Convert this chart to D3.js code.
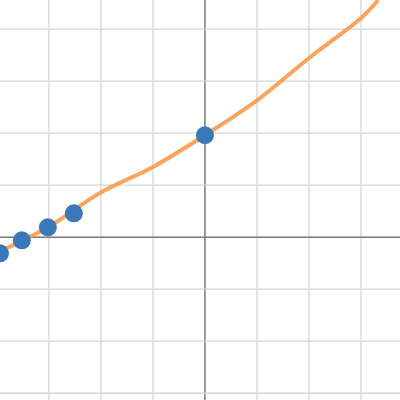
<!DOCTYPE html><html><head><script src="https://cdn.jsdelivr.net/npm/d3@7"></script>
<style>body{margin:0;background:#fff}</style></head><body><svg width="400" height="400"></svg><script>
const pointX=[-3.94,-3.52,-3.02,-2.52,0];
const pointY=[-0.31,-0.06,0.19,0.46,1.96];
const curveX=[-3.94,-3,-2.02,-1,0,1,2.02,3.02,3.33];
const curveY=[-0.27,0.2,0.85,1.35,1.96,2.63,3.46,4.23,4.56];
const gridTicks=[-4,-3,-2,-1,0,1,2,3,4,5];
const W=400,H=400;
const x=d3.scaleLinear().domain([-3.94,3.75]).range([0,W]);
const y=d3.scaleLinear().domain([4.56,-3.13]).range([0,H]);
const svg=d3.select("svg");
svg.selectAll(".gx").data(gridTicks).join("line").attr("x1",d=>x(d)).attr("x2",d=>x(d)).attr("y1",0).attr("y2",H)
 .attr("stroke",d=>d===0?"#777":"#d6d6d6").attr("stroke-width",d=>d===0?1.5:1.3);
svg.selectAll(".gy").data(gridTicks).join("line").attr("y1",d=>y(d)).attr("y2",d=>y(d)).attr("x1",0).attr("x2",W)
 .attr("stroke",d=>d===0?"#777":"#d6d6d6").attr("stroke-width",d=>d===0?1.5:1.3);
svg.append("path").datum(curveX.map((v,i)=>[v,curveY[i]])).attr("d",d3.line().x(d=>x(d[0])).y(d=>y(d[1])).curve(d3.curveCatmullRom))
 .attr("fill","none").attr("stroke","#fa9a4c").attr("stroke-width",4).attr("stroke-opacity",0.9);
svg.selectAll("circle").data(pointX.map((v,i)=>[v,pointY[i]])).join("circle").attr("cx",d=>x(d[0])).attr("cy",d=>y(d[1])).attr("r",9).attr("fill","#3a78b8");
</script></body></html>
